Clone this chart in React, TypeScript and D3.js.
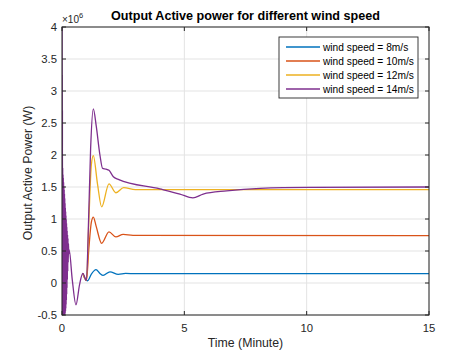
import React from 'react';
import * as d3 from 'd3';

type Pt = [number, number];

const xTicks = [0, 5, 10, 15];
const xTickLabels = ['0', '5', '10', '15'];
const yTicks = [-0.5, 0, 0.5, 1, 1.5, 2, 2.5, 3, 3.5, 4];
const yTickLabels = ['-0.5', '0', '0.5', '1', '1.5', '2', '2.5', '3', '3.5', '4'];
const legendLabels = ['wind speed = 8m/s', 'wind speed = 10m/s', 'wind speed = 12m/s', 'wind speed = 14m/s'];
const seriesColors = ['#0072BD', '#D95319', '#EDB120', '#7E2F8E'];

// values in units of 1e6 W, time in minutes
const speed8: Pt[] = [
  [0.85, 0.15], [1.0, 0.04], [1.05, 0.035], [1.2, 0.14], [1.39, 0.21], [1.55, 0.15], [1.68, 0.12],
  [1.96, 0.175], [2.3, 0.135], [2.6, 0.15], [3.0, 0.145], [15, 0.145],
];
const speed10: Pt[] = [
  [0.85, 0.15], [1.0, 0.04], [1.1, 0.55], [1.2, 0.95], [1.28, 1.03], [1.4, 0.88], [1.62, 0.62],
  [1.92, 0.8], [2.2, 0.72], [2.5, 0.76], [2.9, 0.745], [15, 0.74],
];
const speed12: Pt[] = [
  [0.85, 0.15], [1.0, 0.04], [1.1, 1.0], [1.2, 1.85], [1.28, 1.99], [1.45, 1.55], [1.62, 1.19],
  [1.92, 1.55], [2.2, 1.41], [2.52, 1.49], [3.0, 1.46], [15, 1.46],
];
const speed14: Pt[] = [
  [0, 0], [0.002, 4.0], [0.006, -0.5], [0.01, 3.25], [0.014, -0.5], [0.018, 2.7], [0.024, -0.5],
  [0.03, 1.8], [0.036, -0.5], [0.042, 1.7], [0.048, -0.5], [0.054, 1.65], [0.06, -0.5], [0.066, 1.58],
  [0.072, -0.5], [0.078, 1.52], [0.084, -0.5], [0.09, 1.46], [0.096, -0.5], [0.102, 1.4], [0.108, -0.5],
  [0.114, 1.33], [0.12, -0.49], [0.126, 1.25], [0.132, -0.47], [0.138, 1.18], [0.144, -0.44],
  [0.15, 1.12], [0.156, -0.4], [0.162, 1.06], [0.168, -0.34], [0.174, 1.0], [0.18, -0.27],
  [0.186, 0.94], [0.192, -0.18], [0.198, 0.88], [0.205, -0.08], [0.212, 0.82], [0.22, 0.05],
  [0.228, 0.76], [0.236, 0.18], [0.245, 0.7], [0.255, 0.32], [0.265, 0.62], [0.275, 0.45],
  [0.29, 0.52], [0.42, 0.05], [0.57, -0.34], [0.72, -0.02], [0.85, 0.15], [1.0, 0.04],
  [1.08, 0.9], [1.17, 2.1], [1.28, 2.72], [1.4, 2.45], [1.55, 2.0], [1.66, 1.79], [1.8, 1.78],
  [1.92, 1.76], [2.1, 1.66], [2.3, 1.62], [4.0, 1.47], [4.82, 1.39], [5.35, 1.33], [5.77, 1.39],
  [6.73, 1.44], [8.1, 1.48], [10.1, 1.495], [15, 1.5],
];
const allSeries = [speed8, speed10, speed12, speed14];

const W = 474, H = 354;
const L = 62, R = 429, T = 27, B = 315;
const FONT = '"Liberation Sans", Arial, Helvetica, sans-serif';
const AX = '#262626';

export default function App() {
  const x = d3.scaleLinear().domain([0, 15]).range([L, R]);
  const y = d3.scaleLinear().domain([-0.5, 4]).range([B, T]);
  const line = d3.line<Pt>().x(d => x(d[0])).y(d => y(d[1])).curve(d3.curveMonotoneX);
  const tick = 4;
  const legY = [47, 61, 75, 89];
  return (
    <svg width={W} height={H} style={{ position: 'absolute', left: 0, top: 0, background: '#fff' }}
      fontFamily={FONT}>
      <defs>
        <clipPath id="plot"><rect x={L} y={T - 1} width={R - L} height={B - T + 2} /></clipPath>
      </defs>
      <rect x={0} y={0} width={W} height={H} fill="#fff" />
      {/* grid */}
      {xTicks.map(t => (
        <line key={'gx' + t} x1={x(t)} x2={x(t)} y1={T} y2={B} stroke="#e3e3e3" strokeWidth={1} />
      ))}
      {yTicks.map(t => (
        <line key={'gy' + t} x1={L} x2={R} y1={y(t)} y2={y(t)} stroke="#e3e3e3" strokeWidth={1} />
      ))}
      {/* series */}
      <g clipPath="url(#plot)">
        {allSeries.map((s, i) => (
          <path key={i} d={line(s) || ''} fill="none" stroke={seriesColors[i]} strokeWidth={1.3} />
        ))}
      </g>
      {/* axes box */}
      <rect x={L} y={T} width={R - L} height={B - T} fill="none" stroke={AX} strokeWidth={1} />
      {xTicks.map(t => (
        <g key={'tx' + t}>
          <line x1={x(t)} x2={x(t)} y1={B} y2={B - tick} stroke={AX} />
          <line x1={x(t)} x2={x(t)} y1={T} y2={T + tick} stroke={AX} />
        </g>
      ))}
      {yTicks.map(t => (
        <g key={'ty' + t}>
          <line x1={L} x2={L + tick} y1={y(t)} y2={y(t)} stroke={AX} />
          <line x1={R} x2={R - tick} y1={y(t)} y2={y(t)} stroke={AX} />
        </g>
      ))}
      {/* tick labels */}
      {xTicks.map((t, i) => (
        <text key={'lx' + t} x={x(t)} y={331.5} textAnchor="middle" fontSize={11.3} fill={AX}>{xTickLabels[i]}</text>
      ))}
      {yTicks.map((t, i) => (
        <text key={'ly' + t} x={57} y={y(t)} dy="0.35em" textAnchor="end" fontSize={11.3} fill={AX}>{yTickLabels[i]}</text>
      ))}
      {/* exponent */}
      <text x={62} y={23} fontSize={10} fill={AX}>×10<tspan dy={-5} fontSize={7.5}>6</tspan></text>
      {/* title */}
      <text x={(L + R) / 2} y={20} textAnchor="middle" fontSize={12.6} fontWeight="bold" fill="#000">
        Output Active power for different wind speed
      </text>
      {/* axis labels */}
      <text x={(L + R) / 2} y={347} textAnchor="middle" fontSize={12.3} fill={AX}>Time (Minute)</text>
      <text transform={`translate(32,${(T + B) / 2 + 2}) rotate(-90)`} textAnchor="middle" fontSize={12.3} fill={AX}>
        Output Active Power (W)
      </text>
      {/* legend */}
      <rect x={279} y={37} width={139} height={61} fill="#fff" stroke={AX} strokeWidth={0.9} />
      {legendLabels.map((lab, i) => (
        <g key={lab}>
          <line x1={286} x2={320} y1={legY[i]} y2={legY[i]} stroke={seriesColors[i]} strokeWidth={1.3} />
          <text x={323} y={legY[i]} dy="0.35em" fontSize={10.2} fill="#000">{lab}</text>
        </g>
      ))}
    </svg>
  );
}
